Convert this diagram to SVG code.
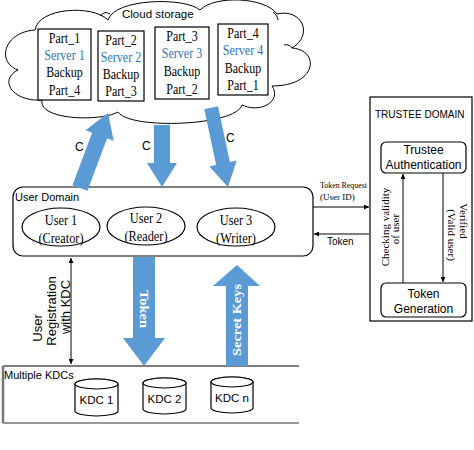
<svg xmlns="http://www.w3.org/2000/svg" width="474" height="450" viewBox="0 0 474 450">
<defs>
<style>
.ln{fill:none;stroke:#000;stroke-width:1}
.box{fill:#fff;stroke:#000;stroke-width:1.2}
.ser{font-family:"Liberation Serif","Times New Roman",serif;fill:#000}
.sans{font-family:"Liberation Sans",Arial,sans-serif;fill:#000}
.arw{fill:#5b9bd5;stroke:none}
.wt{font-family:"Liberation Serif","Times New Roman",serif;font-weight:bold;fill:#fff}
.mid{text-anchor:middle}
.st{font-family:"Liberation Serif","Times New Roman",serif;font-size:15px;text-anchor:middle;fill:#000}
.st.blue{fill:#2e75b6}
</style>
<marker id="ah" viewBox="0 0 8 8" refX="8" refY="4" markerWidth="5" markerHeight="5" orient="auto-start-reverse"><path d="M0,0 L8,4 L0,8 z" fill="#000"/></marker>
</defs>
<rect width="474" height="450" fill="#fff"/>

<g id="cloud">
<path class="ln" style="fill:#fff" d="M35,30 C38,8 92,4 108,20 C115,-2 185,-3 200,10 C215,-5 265,-3 277,14 C302,8 314,35 292,48 C320,50 318,86 272,86 C282,100 262,114 242,105 C236,126 130,130 118,112 C100,122 38,120 42,100 C13,102 -2,80 18,70 C-4,62 4,32 35,30 Z"/>
<path class="ln" d="M100,16 C104,12 106,12 110,14 M273,12 C276,14 278,18 278,20 M292,48 C290,45 286,44 284,45"/>
<text class="sans" x="122" y="18" font-size="11.5">Cloud storage</text>
</g>

<g id="server1">
<rect class="box" x="38" y="29" width="53" height="71"/>
<g transform="translate(64.5,0) scale(0.8,1)">
<text class="st" x="0" y="43">Part_1</text>
<text class="st blue" x="0" y="60">Server 1</text>
<text class="st" x="0" y="77">Backup</text>
<text class="st" x="0" y="95">Part_4</text>
</g>
</g>
<g id="server2">
<rect class="box" x="98" y="31" width="46" height="70"/>
<g transform="translate(121,0) scale(0.8,1)">
<text class="st" x="0" y="45">Part_2</text>
<text class="st blue" x="0" y="62">Server 2</text>
<text class="st" x="0" y="79">Backup</text>
<text class="st" x="0" y="96">Part_3</text>
</g>
</g>
<g id="server3">
<rect class="box" x="155" y="27" width="54" height="72"/>
<g transform="translate(182,0) scale(0.8,1)">
<text class="st" x="0" y="41">Part_3</text>
<text class="st blue" x="0" y="58">Server 3</text>
<text class="st" x="0" y="76">Backup</text>
<text class="st" x="0" y="94">Part_2</text>
</g>
</g>
<g id="server4">
<rect class="box" x="218" y="24" width="50" height="71"/>
<g transform="translate(243,0) scale(0.8,1)">
<text class="st" x="0" y="38">Part_4</text>
<text class="st blue" x="0" y="55">Server 4</text>
<text class="st" x="0" y="73">Backup</text>
<text class="st" x="0" y="90">Part_1</text>
</g>
</g>

<g id="user-domain">
<rect class="box" x="13" y="187" width="300" height="69" rx="10"/>
<text class="sans" x="15" y="201" font-size="11">User Domain</text>
</g>
<g id="user1">
<ellipse class="box" cx="61" cy="227" rx="39" ry="19"/>
<g transform="translate(61,0) scale(0.88,1)">
<text class="st" x="0" y="225" style="font-size:14px">User 1</text>
<text class="st" x="0" y="243" style="font-size:14px">(Creator)</text>
</g>
</g>
<g id="user2">
<ellipse class="box" cx="146" cy="226" rx="39" ry="19"/>
<g transform="translate(146,0) scale(0.88,1)">
<text class="st" x="0" y="223" style="font-size:14px">User 2</text>
<text class="st" x="0" y="241" style="font-size:14px">(Reader)</text>
</g>
</g>
<g id="user3">
<ellipse class="box" cx="236" cy="227" rx="39" ry="19"/>
<g transform="translate(236,0) scale(0.88,1)">
<text class="st" x="0" y="225" style="font-size:14px">User 3</text>
<text class="st" x="0" y="243" style="font-size:14px">(Writer)</text>
</g>
</g>

<g id="trustee-domain">
<rect class="box" x="370" y="97" width="102" height="224"/>
<text class="sans" x="375" y="118" font-size="10">TRUSTEE DOMAIN</text>
</g>
<g id="trustee-auth">
<rect class="box" x="381" y="142" width="85" height="31" rx="5"/>
<text class="sans mid" x="423.5" y="154" font-size="12">Trustee</text>
<text class="sans mid" x="423.5" y="169" font-size="12">Authentication</text>
</g>
<g id="token-gen">
<rect class="box" x="381" y="283" width="85" height="34" rx="5"/>
<text class="sans mid" x="423.5" y="298" font-size="12">Token</text>
<text class="sans mid" x="423.5" y="313" font-size="12">Generation</text>
</g>

<g id="kdcs">
<line x1="3" y1="366" x2="299" y2="366" stroke="#000" stroke-width="1.2"/>
<line x1="3" y1="423" x2="299" y2="423" stroke="#333" stroke-width="1.2"/>
<line x1="3" y1="366" x2="3" y2="423" stroke="#777" stroke-width="2.5"/>
<text class="sans" x="4" y="379" font-size="11">Multiple KDCs</text>
</g>
<g id="kdc1">
<path class="box" d="M75,384 L75,411 A21.5,5 0 0 0 118,411 L118,384 A21.5,5 0 0 0 75,384 Z"/>
<ellipse class="box" cx="96.5" cy="384" rx="21.5" ry="5"/>
<text class="sans mid" x="96.5" y="404" font-size="11.5">KDC 1</text>
</g>
<g id="kdc2">
<path class="box" d="M143,383 L143,409 A21.5,5 0 0 0 186,409 L186,383 A21.5,5 0 0 0 143,383 Z"/>
<ellipse class="box" cx="164.5" cy="383" rx="21.5" ry="5"/>
<text class="sans mid" x="164.5" y="403" font-size="11.5">KDC 2</text>
</g>
<g id="kdc3">
<path class="box" d="M211,382 L211,408 A21,5 0 0 0 253,408 L253,382 A21,5 0 0 0 211,382 Z"/>
<ellipse class="box" cx="232" cy="382" rx="21" ry="5"/>
<text class="sans mid" x="232" y="402" font-size="11.5">KDC n</text>
</g>

<g id="connectors">
<polygon class="arw" transform="translate(108,113) rotate(20.5)" points="0,0 15,24 8,24 8,80 -8,80 -8,24 -15,24"/>
<polygon class="arw" transform="translate(162,187) rotate(180)" points="0,0 15,24 8,24 8,62 -8,62 -8,24 -15,24"/>
<polygon class="arw" transform="translate(228,187) rotate(168)" points="0,0 14,24 7,24 7,81 -7,81 -7,24 -14,24"/>
<text class="sans" x="75" y="151" font-size="12">C</text>
<text class="sans" x="142" y="150" font-size="12">C</text>
<text class="sans" x="226" y="142" font-size="12">C</text>

<polygon class="arw" points="133,257 155,257 155,338 165,338 144,366 123,338 133,338"/>
<text class="wt mid" transform="translate(140,309) rotate(90)" font-size="12" textLength="38" lengthAdjust="spacingAndGlyphs">Token</text>
<polygon class="arw" points="226,366 248,366 248,286 260,286 237,265 213,286 226,286"/>
<text class="wt mid" transform="translate(241,320) rotate(-90)" font-size="12" textLength="72" lengthAdjust="spacingAndGlyphs">Secret Keys</text>

<line class="ln" x1="71" y1="258" x2="71" y2="364" marker-start="url(#ah)" marker-end="url(#ah)"/>
<text class="sans mid" transform="translate(42,328) rotate(-90)" font-size="13">User</text>
<text class="sans mid" transform="translate(56,311) rotate(-90)" font-size="13">Registration</text>
<text class="sans mid" transform="translate(70,307) rotate(-90)" font-size="13">with KDC</text>

<line class="ln" x1="313" y1="207" x2="369" y2="207" marker-end="url(#ah)"/>
<text class="ser" x="320" y="188" font-size="9" textLength="47" lengthAdjust="spacingAndGlyphs">Token Request</text>
<text class="ser" x="320" y="200" font-size="9">(User ID)</text>
<line class="ln" x1="369" y1="234" x2="314" y2="234" marker-end="url(#ah)"/>
<text class="sans" x="327" y="245" font-size="10">Token</text>

<line class="ln" x1="403" y1="283" x2="403" y2="174" marker-end="url(#ah)"/>
<line class="ln" x1="443" y1="173" x2="443" y2="282" marker-end="url(#ah)"/>
<text class="ser mid" transform="translate(389,227) rotate(-90)" font-size="11">Checking validity</text>
<text class="ser mid" transform="translate(399,229) rotate(-90)" font-size="11">of user</text>
<text class="ser mid" transform="translate(460,221) rotate(90)" font-size="11">Verified</text>
<text class="ser mid" transform="translate(448,235) rotate(90)" font-size="11">(Valid user)</text>
</g>
</svg>
